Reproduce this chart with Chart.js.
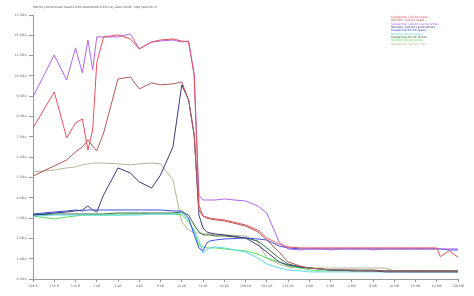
<!DOCTYPE html>
<html>
<head>
<meta charset="utf-8">
<script src="https://cdn.jsdelivr.net/npm/chart.js@4.4.0/dist/chart.umd.min.js"></script>
<style>
  html, body { margin: 0; padding: 0; background: #fff; }
</style>
</head>
<body>
<canvas id="bw-chart" width="474" height="296"></canvas>
<script>
// chunk sizes in bytes (x axis is log2 of size / 128)
const sizes = [128, 256, 384, 512, 640, 768, 896, 1024, 1280, 2048, 3072, 4096, 6144, 8192,
  12288, 16384, 20480, 24576, 28672, 32768, 36864, 40960, 49152, 65536, 131072, 196608,
  262144, 393216, 524288, 786432, 1048576, 1572864, 2097152, 3145728, 4194304, 6291456,
  8388608, 12582912, 16777216, 33554432, 50331648, 67108864, 75497472, 100663296, 134217728];

const xLabels = ['128 B', '256 B', '512 B', '1 kB', '2 kB', '4 kB', '8 kB', '16 kB', '32 kB',
  '64 kB', '128 kB', '256 kB', '512 kB', '1 MB', '2 MB', '4 MB', '8 MB', '16 MB', '32 MB',
  '64 MB', '128 MB'];

// GB/s
const seqRead128 = [7.44, 9.21, 6.95, 7.68, 7.88, 6.35, 7.34, 10.64, 11.92, 12.02, 11.82, 11.33, 11.67, 11.77,
  11.82, 11.72, 11.67, 10.05, 3.65, 3.10, 3.05, 3.00, 2.96, 2.91, 2.66, 2.41, 2.02, 1.72, 1.58, 1.53,
  1.53, 1.53, 1.53, 1.53, 1.53, 1.53, 1.53, 1.53, 1.53, 1.53, 1.53, 1.53, 1.10, 1.39, 1.07];
const randRead128 = [5.07, 5.57, 5.86, 6.26, 6.50, 6.85, 6.55, 6.31, 7.19, 9.85, 9.95, 9.36, 9.66, 9.56,
  9.61, 9.70, 8.82, 7.09, 3.40, 3.10, 3.00, 2.96, 2.91, 2.86, 2.61, 2.32, 1.92, 1.33, 0.84, 0.64,
  0.54, 0.49, 0.44, 0.44, 0.44, 0.40, 0.40, 0.40, 0.40, 0.40, 0.40, 0.40, 0.40, 0.40, 0.40];
const seqWrite128 = [8.97, 11.03, 9.80, 11.38, 10.15, 11.77, 10.30, 11.92, 11.92, 11.92, 12.07, 11.33, 11.67, 11.72,
  11.77, 11.67, 11.72, 10.05, 4.14, 3.89, 3.89, 3.89, 3.89, 3.94, 3.84, 3.60, 3.25, 1.82, 1.48, 1.43,
  1.48, 1.48, 1.43, 1.48, 1.48, 1.48, 1.43, 1.48, 1.48, 1.48, 1.48, 1.48, 1.48, 1.48, 1.48];
const randWrite128 = [3.15, 3.25, 3.30, 3.35, 3.40, 3.60, 3.40, 3.30, 4.14, 5.47, 5.22, 4.78, 4.48, 5.12,
  6.50, 9.56, 8.82, 7.09, 3.15, 2.51, 2.32, 2.27, 2.22, 2.17, 2.02, 1.67, 1.33, 0.84, 0.69, 0.59,
  0.54, 0.49, 0.44, 0.44, 0.40, 0.40, 0.40, 0.35, 0.35, 0.35, 0.35, 0.35, 0.35, 0.35, 0.35];
const seqRead64 = [3.20, 3.30, 3.35, 3.40, 3.35, 3.40, 3.40, 3.40, 3.40, 3.40, 3.40, 3.40, 3.40, 3.40,
  3.35, 3.35, 3.00, 2.17, 1.53, 1.38, 1.77, 1.87, 1.92, 1.97, 2.02, 1.97, 1.92, 1.62, 1.53, 1.48,
  1.48, 1.48, 1.48, 1.48, 1.48, 1.48, 1.48, 1.48, 1.48, 1.48, 1.48, 1.48, 1.48, 1.43, 1.43];
const randRead64 = [3.10, 3.15, 3.15, 3.15, 3.15, 3.15, 3.15, 3.15, 3.15, 3.15, 3.15, 3.15, 3.20, 3.20,
  3.20, 3.25, 2.91, 2.32, 1.92, 1.28, 1.43, 1.53, 1.58, 1.53, 1.33, 1.03, 0.74, 0.54, 0.44, 0.40,
  0.35, 0.35, 0.35, 0.35, 0.35, 0.35, 0.35, 0.35, 0.35, 0.35, 0.35, 0.35, 0.35, 0.35, 0.35];
const seqWrite64 = [3.15, 3.20, 3.20, 3.20, 3.20, 3.20, 3.20, 3.20, 3.20, 3.25, 3.25, 3.25, 3.25, 3.25,
  3.25, 3.30, 3.15, 2.66, 2.32, 2.17, 2.17, 2.17, 2.12, 2.12, 2.02, 1.87, 1.53, 1.03, 0.74, 0.59,
  0.54, 0.49, 0.44, 0.44, 0.44, 0.44, 0.44, 0.40, 0.40, 0.40, 0.40, 0.40, 0.40, 0.40, 0.40];
const randWrite64 = [3.10, 2.96, 3.05, 3.10, 3.15, 3.15, 3.15, 3.15, 3.15, 3.15, 3.20, 3.20, 3.20, 3.20,
  3.20, 3.15, 2.81, 2.41, 1.67, 1.58, 1.53, 1.53, 1.53, 1.48, 1.38, 1.23, 1.03, 0.84, 0.64, 0.54,
  0.44, 0.40, 0.40, 0.40, 0.40, 0.40, 0.40, 0.40, 0.40, 0.40, 0.40, 0.40, 0.40, 0.40, 0.40];
const seqCopy128 = [5.27, 5.37, 5.47, 5.52, 5.62, 5.67, 5.71, 5.71, 5.71, 5.67, 5.62, 5.67, 5.71, 5.67,
  4.88, 2.81, 2.41, 2.27, 2.27, 2.22, 2.22, 2.22, 2.17, 2.17, 2.12, 1.82, 1.03, 0.74, 0.59, 0.54,
  0.54, 0.54, 0.54, 0.54, 0.54, 0.54, 0.54, 0.54, 0.40, 0.35, 0.35, 0.35, 0.35, 0.35, 0.35];

const seriesNames = ['Sequential 128-bit reads', 'Random 128-bit reads', 'Sequential 128-bit cache writes',
  'Random 128-bit cache writes', 'Sequential 64-bit reads', 'Random 64-bit reads',
  'Sequential 64-bit writes', 'Random 64-bit writes', 'Sequential 128-bit copy'];
const seriesValues = [seqRead128, randRead128, seqWrite128, randWrite128, seqRead64, randRead64,
  seqWrite64, randWrite64, seqCopy128];
const seriesColors = ['#e8505a', '#b05a5a', '#b066e6', '#3c3c78', '#3c50e0', '#5cd8ea',
  '#3a6a3a', '#58e058', '#b4b496'];

const datasets = seriesNames.map((name, i) => ({
  label: name,
  data: sizes.map((s, j) => ({ x: Math.log2(s / 128), y: seriesValues[i][j] })),
  borderColor: seriesColors[i],
  borderWidth: 1,
  pointRadius: 0,
  tension: 0,
  fill: false
}));

// legend drawn as plain coloured text in the top right corner
const textLegend = {
  id: 'textLegend',
  afterDatasetsDraw(chart) {
    const ctx = chart.ctx;
    ctx.save();
    ctx.font = '3px "DejaVu Sans"';
    ctx.textBaseline = 'middle';
    ctx.textAlign = 'left';
    chart.data.datasets.forEach((ds, i) => {
      ctx.fillStyle = ds.borderColor;
      ctx.fillText(ds.label, chart.chartArea.right - 67, chart.chartArea.top + 2.3 + i * 3.33);
    });
    ctx.restore();
  }
};

const axisFont = { family: 'DejaVu Sans', size: 3.2 };

new Chart(document.getElementById('bw-chart'), {
  type: 'line',
  data: { datasets: datasets },
  options: {
    responsive: false,
    animation: false,
    devicePixelRatio: 1,
    layout: { padding: { left: 0, right: 16, top: 0, bottom: 0 } },
    plugins: {
      legend: { display: false },
      tooltip: { enabled: false },
      title: {
        display: true,
        text: 'Memory benchmark results from bandwidth 0.32m by Zack Smith, http://zsmith.co',
        align: 'start',
        fullSize: false,
        color: '#555',
        font: { family: 'DejaVu Sans', size: 3, weight: 'normal' },
        padding: { top: 5.5, bottom: 5.9 }
      }
    },
    scales: {
      x: {
        type: 'linear',
        min: 0,
        max: 20,
        grid: { display: true, drawOnChartArea: false, tickLength: 3, color: '#999' },
        border: { color: '#999' },
        ticks: {
          stepSize: 1,
          autoSkip: false,
          maxRotation: 0,
          padding: 2,
          color: '#666',
          font: axisFont,
          callback: v => xLabels[v]
        },
        afterFit: scale => { scale.height = 17; }
      },
      y: {
        min: 0,
        max: 13,
        grid: { display: true, drawOnChartArea: false, tickLength: 4, color: '#999' },
        border: { color: '#999' },
        ticks: {
          stepSize: 1,
          padding: 2,
          color: '#666',
          font: axisFont,
          callback: v => v + ' GB/s'
        },
        afterFit: scale => { scale.width = 33; }
      }
    }
  },
  plugins: [textLegend]
});
</script>
</body>
</html>
